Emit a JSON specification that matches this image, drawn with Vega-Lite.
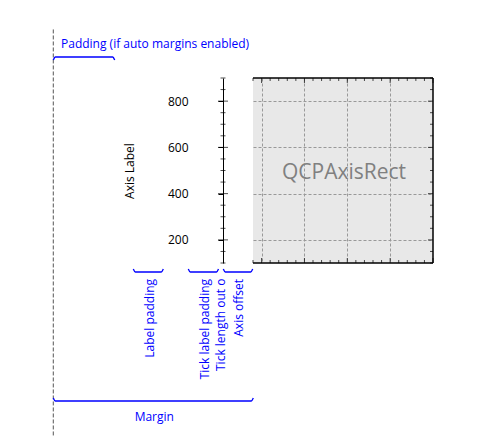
{
  "$schema": "https://vega.github.io/schema/vega-lite/v6.json",
  "width": 180,
  "height": 185,
  "autosize": "none",
  "padding": {"left": 253, "top": 78, "right": 67, "bottom": 173},
  "background": "white",
  "datasets": {
    "yticks": [
      {"v": 100, "major": false}, {"v": 150, "major": false}, {"v": 200, "major": true},
      {"v": 250, "major": false}, {"v": 300, "major": false}, {"v": 350, "major": false},
      {"v": 400, "major": true}, {"v": 450, "major": false}, {"v": 500, "major": false},
      {"v": 550, "major": false}, {"v": 600, "major": true}, {"v": 650, "major": false},
      {"v": 700, "major": false}, {"v": 750, "major": false}, {"v": 800, "major": true},
      {"v": 850, "major": false}, {"v": 900, "major": false}
    ],
    "xticks": [
      {"v": 0.8, "major": false}, {"v": 1, "major": true}, {"v": 1.2, "major": false},
      {"v": 1.4, "major": false}, {"v": 1.6, "major": false}, {"v": 1.8, "major": false},
      {"v": 2, "major": true}, {"v": 2.2, "major": false}, {"v": 2.4, "major": false},
      {"v": 2.6, "major": false}, {"v": 2.8, "major": false}, {"v": 3, "major": true},
      {"v": 3.2, "major": false}, {"v": 3.4, "major": false}, {"v": 3.6, "major": false},
      {"v": 3.8, "major": false}, {"v": 4, "major": true}, {"v": 4.2, "major": false},
      {"v": 4.4, "major": false}, {"v": 4.6, "major": false}, {"v": 4.8, "major": false},
      {"v": 5, "major": true}
    ],
    "frame": [
      {"side": "top", "x": 0.8, "y": 900, "x2": 5, "y2": 900},
      {"side": "bottom", "x": 0.8, "y": 100, "x2": 5, "y2": 100},
      {"side": "right", "x": 5, "y": 100, "x2": 5, "y2": 900}
    ],
    "brackets": [
      {"id": "padding", "x": -3.860, "y": 978}, {"id": "padding", "x": -3.813, "y": 991},
      {"id": "padding", "x": -2.474, "y": 991}, {"id": "padding", "x": -2.427, "y": 978},
      {"id": "margin", "x": -3.860, "y": -484}, {"id": "margin", "x": -3.813, "y": -497},
      {"id": "margin", "x": 0.760, "y": -497}, {"id": "margin", "x": 0.807, "y": -484},
      {"id": "labelpad", "x": -1.993, "y": 74}, {"id": "labelpad", "x": -1.946, "y": 61},
      {"id": "labelpad", "x": -1.340, "y": 61}, {"id": "labelpad", "x": -1.293, "y": 74},
      {"id": "ticklabelpad", "x": -0.710, "y": 74}, {"id": "ticklabelpad", "x": -0.663, "y": 61},
      {"id": "ticklabelpad", "x": -0.052, "y": 61}, {"id": "ticklabelpad", "x": -0.005, "y": 74},
      {"id": "offset", "x": 0.107, "y": 74}, {"id": "offset", "x": 0.154, "y": 61},
      {"id": "offset", "x": 0.746, "y": 61}, {"id": "offset", "x": 0.793, "y": 74}
    ],
    "guide": [
      {"x": -3.860, "y": 1110},
      {"x": -3.860, "y": -660}
    ],
    "notes": [
      {"kind": "left", "text": "Padding (if auto margins enabled)", "x": -3.68, "y": 1028},
      {"kind": "center", "text": "Margin", "x": -1.503, "y": -582},
      {"kind": "up", "text": "Label padding", "x": -1.603, "y": 31},
      {"kind": "up", "text": "Tick label padding", "x": -0.32, "y": 31},
      {"kind": "up", "text": "Axis offset", "x": 0.473, "y": 31},
      {"kind": "clipped", "text": "Tick length out of axis rect", "x": 0.049, "y": -367},
      {"kind": "rect", "text": "QCPAxisRect", "x": 2.923, "y": 462}
    ]
  },
  "layer": [
    {
      "data": {"name": "yticks"},
      "mark": {"type": "tick", "orient": "horizontal", "thickness": 1, "color": "black"},
      "encoding": {
        "y": {
          "field": "v",
          "type": "quantitative",
          "scale": {"domain": [100, 900], "nice": false, "zero": false},
          "axis": {
            "title": "Axis Label",
            "values": [200, 400, 600, 800],
            "offset": 30,
            "tickSize": 5,
            "labelPadding": 30,
            "titlePadding": 31,
            "grid": true
          }
        },
        "x": {
          "datum": 0.1,
          "type": "quantitative",
          "scale": {"domain": [0.8, 5], "nice": false, "zero": false},
          "axis": {"title": null, "values": [1, 2, 3, 4], "labels": false, "ticks": false, "domain": false, "grid": true}
        },
        "size": {"condition": {"test": "datum.major", "value": 10}, "value": 5}
      }
    },
    {
      "data": {"name": "yticks"},
      "transform": [{"filter": "datum.major"}],
      "mark": {"type": "tick", "orient": "horizontal", "thickness": 1, "color": "black", "size": 5, "xOffset": -2.5},
      "encoding": {
        "y": {"field": "v", "type": "quantitative"},
        "x": {"datum": 5, "type": "quantitative"}
      }
    },
    {
      "data": {"name": "yticks"},
      "transform": [{"filter": "!datum.major"}],
      "mark": {"type": "tick", "orient": "horizontal", "thickness": 1, "color": "black", "size": 3, "xOffset": -1.5},
      "encoding": {
        "y": {"field": "v", "type": "quantitative"},
        "x": {"datum": 5, "type": "quantitative"}
      }
    },
    {
      "data": {"name": "xticks"},
      "transform": [{"filter": "datum.major"}],
      "mark": {"type": "tick", "orient": "vertical", "thickness": 1, "color": "black", "size": 5, "yOffset": 2.5},
      "encoding": {
        "x": {"field": "v", "type": "quantitative"},
        "y": {"datum": 900, "type": "quantitative"}
      }
    },
    {
      "data": {"name": "xticks"},
      "transform": [{"filter": "!datum.major"}],
      "mark": {"type": "tick", "orient": "vertical", "thickness": 1, "color": "black", "size": 3, "yOffset": 1.5},
      "encoding": {
        "x": {"field": "v", "type": "quantitative"},
        "y": {"datum": 900, "type": "quantitative"}
      }
    },
    {
      "data": {"name": "xticks"},
      "transform": [{"filter": "datum.major"}],
      "mark": {"type": "tick", "orient": "vertical", "thickness": 1, "color": "black", "size": 5, "yOffset": -2.5},
      "encoding": {
        "x": {"field": "v", "type": "quantitative"},
        "y": {"datum": 100, "type": "quantitative"}
      }
    },
    {
      "data": {"name": "xticks"},
      "transform": [{"filter": "!datum.major"}],
      "mark": {"type": "tick", "orient": "vertical", "thickness": 1, "color": "black", "size": 3, "yOffset": -1.5},
      "encoding": {
        "x": {"field": "v", "type": "quantitative"},
        "y": {"datum": 100, "type": "quantitative"}
      }
    },
    {
      "data": {"name": "frame"},
      "mark": {"type": "rule", "color": "black", "strokeWidth": 1.5},
      "encoding": {
        "x": {"field": "x", "type": "quantitative"},
        "x2": {"field": "x2"},
        "y": {"field": "y", "type": "quantitative"},
        "y2": {"field": "y2"}
      }
    },
    {
      "data": {"name": "guide"},
      "mark": {"type": "line", "color": "#555555", "strokeWidth": 1, "strokeDash": [4, 2]},
      "encoding": {
        "x": {"field": "x", "type": "quantitative"},
        "y": {"field": "y", "type": "quantitative"}
      }
    },
    {
      "data": {"name": "brackets"},
      "mark": {"type": "line", "color": "#0000ff", "strokeWidth": 1.4, "interpolate": "monotone"},
      "encoding": {
        "x": {"field": "x", "type": "quantitative"},
        "y": {"field": "y", "type": "quantitative"},
        "detail": {"field": "id"}
      }
    },
    {
      "data": {"name": "notes"},
      "transform": [{"filter": "datum.kind == 'left'"}],
      "mark": {"type": "text", "color": "#0000ff", "fontSize": 12, "align": "left", "baseline": "alphabetic"},
      "encoding": {
        "x": {"field": "x", "type": "quantitative"},
        "y": {"field": "y", "type": "quantitative"},
        "text": {"field": "text"}
      }
    },
    {
      "data": {"name": "notes"},
      "transform": [{"filter": "datum.kind == 'center'"}],
      "mark": {"type": "text", "color": "#0000ff", "fontSize": 12, "align": "center", "baseline": "alphabetic"},
      "encoding": {
        "x": {"field": "x", "type": "quantitative"},
        "y": {"field": "y", "type": "quantitative"},
        "text": {"field": "text"}
      }
    },
    {
      "data": {"name": "notes"},
      "transform": [{"filter": "datum.kind == 'up'"}],
      "mark": {"type": "text", "color": "#0000ff", "fontSize": 12, "angle": 270, "align": "right", "baseline": "middle"},
      "encoding": {
        "x": {"field": "x", "type": "quantitative"},
        "y": {"field": "y", "type": "quantitative"},
        "text": {"field": "text"}
      }
    },
    {
      "data": {"name": "notes"},
      "transform": [{"filter": "datum.kind == 'clipped'"}],
      "mark": {"type": "text", "color": "#0000ff", "fontSize": 12, "angle": 270, "align": "left", "baseline": "middle", "limit": 94, "ellipsis": "\u200b"},
      "encoding": {
        "x": {"field": "x", "type": "quantitative"},
        "y": {"field": "y", "type": "quantitative"},
        "text": {"field": "text"}
      }
    },
    {
      "data": {"name": "notes"},
      "transform": [{"filter": "datum.kind == 'rect'"}],
      "mark": {"type": "text", "color": "#808080", "fontSize": 21, "align": "center", "baseline": "alphabetic"},
      "encoding": {
        "x": {"field": "x", "type": "quantitative"},
        "y": {"field": "y", "type": "quantitative"},
        "text": {"field": "text"}
      }
    }
  ],
  "config": {
    "font": "Open Sans",
    "view": {"stroke": null, "fill": "#e8e8e8"},
    "axis": {
      "domainColor": "black",
      "tickColor": "black",
      "labelColor": "black",
      "labelFontSize": 12,
      "titleColor": "black",
      "titleFontSize": 12,
      "titleFontWeight": "normal",
      "gridColor": "#999999",
      "gridDash": [3, 2],
      "gridWidth": 1
    }
  }
}
